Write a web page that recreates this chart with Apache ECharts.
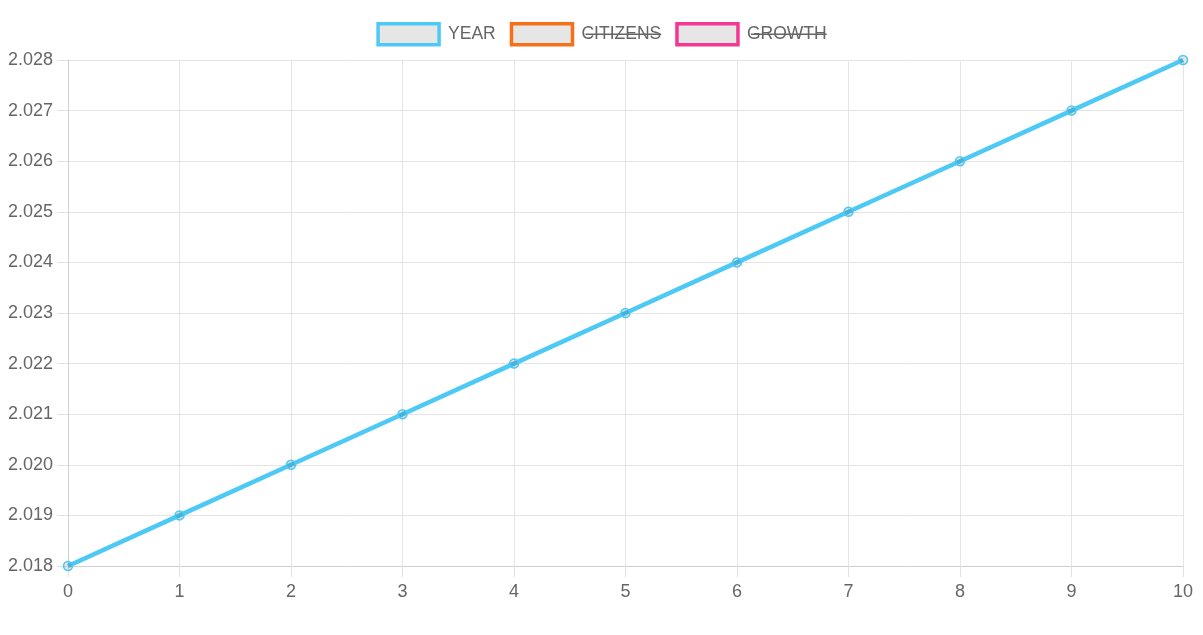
<!DOCTYPE html>
<html>
<head>
<meta charset="utf-8">
<script src="https://cdn.jsdelivr.net/npm/echarts@6/dist/echarts.min.js"></script>
<style>
html,body{margin:0;padding:0;background:#fff;}
#chart{width:1203px;height:635px;}
</style>
</head>
<body>
<div id="chart"></div>
<script>
var categories = ['0','1','2','3','4','5','6','7','8','9','10'];
var yearValues = [2.018, 2.019, 2.020, 2.021, 2.022, 2.023, 2.024, 2.025, 2.026, 2.027, 2.028];
var citizensValues = [];
var growthValues = [];
var seriesNames = ['YEAR', 'CITIZENS', 'GROWTH'];
var seriesColors = ['#4dc9f6', '#f67019', '#f53794'];

var chart = echarts.init(document.getElementById('chart'));
var font = 'Liberation Sans, Helvetica, Arial, sans-serif';

function mkSeries(name, data, color) {
  return {
    name: name,
    type: 'line',
    data: data,
    symbol: 'circle',
    symbolSize: 9,
    lineStyle: {color: color, width: 4.5},
    itemStyle: {color: 'rgba(0,0,0,0.1)', borderColor: color, borderWidth: 1.5},
    emphasis: {disabled: true},
    animation: false
  };
}

var option = {
  animation: false,
  legend: {
    top: 17,
    left: 'center',
    selectedMode: false,
    icon: 'rect',
    itemWidth: 61,
    itemHeight: 21,
    itemGap: 14,
    textStyle: {color: '#666', fontSize: 17.5, fontFamily: font, padding: [0, 0, 0, 4]},
    data: seriesNames.map(function (n, i) {
      return {name: n, itemStyle: {color: '#e6e6e6', borderColor: seriesColors[i], borderWidth: 3.5}};
    })
  },
  grid: {left: 68, right: 20, top: 60, bottom: 69, containLabel: false},
  xAxis: {
    type: 'category',
    data: categories,
    boundaryGap: false,
    axisLine: {lineStyle: {color: '#cfcfcf', width: 1}},
    axisTick: {show: true, length: 11, alignWithLabel: true, lineStyle: {color: '#e0e0e0'}},
    axisLabel: {color: '#666', fontSize: 18, fontFamily: font, margin: 17},
    splitLine: {show: true, lineStyle: {color: '#e5e5e5', width: 1}}
  },
  yAxis: {
    type: 'value',
    min: 2.018,
    max: 2.028,
    interval: 0.001,
    axisLine: {show: true, lineStyle: {color: '#cfcfcf', width: 1}},
    axisTick: {show: true, length: 11, lineStyle: {color: '#e0e0e0'}},
    axisLabel: {color: '#666', fontSize: 18, fontFamily: font, margin: 15,
      formatter: function (v) { return v.toFixed(3); }},
    splitLine: {show: true, lineStyle: {color: '#e5e5e5', width: 1}}
  },
  series: [
    mkSeries(seriesNames[0], yearValues, seriesColors[0]),
    mkSeries(seriesNames[1], citizensValues, seriesColors[1]),
    mkSeries(seriesNames[2], growthValues, seriesColors[2])
  ]
};
chart.setOption(option);

// strike through the labels of the hidden datasets, measured from the rendered legend
(function () {
  var legendView = chart._componentsViews.filter(function (v) { return v.type === 'legend.plain'; })[0];
  var lines = [];
  if (legendView) {
    var group = legendView.getContentGroup();
    var gx = group.x + legendView.group.x, gy = group.y + legendView.group.y;
    group.children().forEach(function (item, idx) {
      if (idx === 0) return;
      item.eachChild(function (el) {
        if (el.type === 'text') {
          var r = el.getBoundingRect();
          var x0 = gx + item.x + el.x + r.x, y0 = gy + item.y + el.y + r.y;
          lines.push({type: 'line', silent: true,
            shape: {x1: x0 + 4, y1: y0 + r.height / 2, x2: x0 + r.width, y2: y0 + r.height / 2},
            style: {stroke: '#666', lineWidth: 1.5}});
        }
      });
    });
  }
  chart.setOption({graphic: lines});
})();
</script>
</body>
</html>
